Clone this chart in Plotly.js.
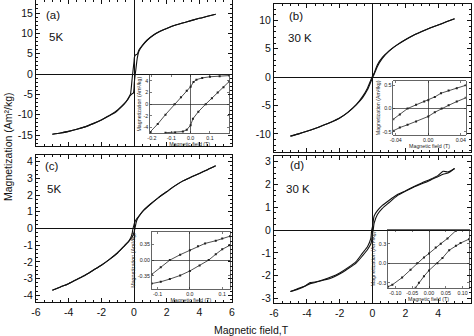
<!DOCTYPE html>
<html><head><meta charset="utf-8">
<script src="https://cdn.plot.ly/plotly-3.0.1.min.js"></script>
<style>body{margin:0;padding:0;background:#fff}#chart{width:474px;height:336px}</style>
</head><body><div id="chart"></div>
<script>
// ---- Panel (a) 5K main loop ----
const aAscX = [-5,-4.5,-4,-3.5,-3,-2.5,-2,-1.5,-1,-0.6,-0.4,-0.25,-0.13,-0.04,-0.02,0,0.012,0.04,0.078,0.11,0.2,0.3,0.5,0.8,1.2,1.6,2,2.6,3.2,4,4.5,5];
const aAscY = [-14.8,-14.5,-14.1,-13.6,-13.0,-12.2,-11.3,-10.2,-8.8,-7.3,-6.4,-5.4,-4.9,-4.7,-4.4,-3.6,-2.5,-1.3,0,1.0,3.9,5.6,6.9,8.3,9.6,10.5,11.2,12.1,12.8,13.7,14.2,14.7];
const aDescX = [5,4.5,4,3.2,2.6,2,1.6,1.2,0.8,0.5,0.3,0.2,0.1,0.03,0.015,0,-0.02,-0.05,-0.083,-0.13,-0.21,-0.3,-0.5,-0.8,-1.2,-1.6,-2,-2.5,-3,-3.5,-4,-4.5,-5];
const aDescY = [14.7,14.2,13.7,12.8,12.1,11.2,10.5,9.6,8.3,7.0,5.9,4.9,4.7,4.2,3.8,3.0,2.3,1.2,0,-1.8,-4.8,-5.6,-6.9,-8.2,-9.6,-10.4,-11.3,-12.2,-13.0,-13.6,-14.1,-14.5,-14.8];
// inset (a)
const aInUpX = [-0.21,-0.17,-0.13,-0.083,-0.05,-0.02,0,0.015,0.03,0.06,0.1,0.15,0.2];
const aInUpY = [-4.8,-3.4,-1.8,0,1.2,2.3,3.0,3.8,4.2,4.5,4.7,4.8,4.9];
const aInLoX = [-0.13,-0.08,-0.04,-0.02,0,0.012,0.04,0.078,0.11,0.14,0.17,0.2];
const aInLoY = [-4.9,-4.85,-4.7,-4.4,-3.6,-2.5,-1.3,0,1.0,2.0,2.9,3.9];

// ---- Panel (b) 30K ----
const bX = [-5,-4.5,-4,-3.5,-3,-2.5,-2,-1.5,-1,-0.6,-0.3,-0.1,0,0.1,0.3,0.6,1,1.5,2,2.5,3,3.5,4,4.5,5];
const bDescY = [-10.4,-10.0,-9.55,-9.05,-8.5,-7.9,-7.2,-6.2,-4.9,-3.4,-1.9,-0.5,0.18,0.7,2.2,3.5,4.6,5.7,6.6,7.4,8.05,8.65,9.2,9.75,10.3];
const bAscY  = [-10.4,-10.0,-9.55,-9.05,-8.5,-7.9,-7.2,-6.2,-4.9,-3.6,-2.2,-0.8,-0.17,0.5,1.9,3.3,4.6,5.7,6.6,7.4,8.05,8.65,9.2,9.75,10.3];
const bInUpX = [-0.043,-0.035,-0.0255,-0.015,-0.005,0,0.008,0.0156,0.025,0.035,0.046];
const bInUpY = [-0.23,-0.13,0,0.08,0.15,0.18,0.25,0.33,0.39,0.44,0.5];
const bInLoX = [-0.043,-0.035,-0.0255,-0.015,0,0.008,0.0165,0.025,0.035,0.046];
const bInLoY = [-0.48,-0.41,-0.35,-0.28,-0.17,-0.08,0,0.07,0.15,0.23];

// ---- Panel (c) 5K ----
const cDescX = [5,4.5,4,3.5,3,2.5,2,1.5,1,0.6,0.35,0.2,0.124,0.047,0,-0.062,-0.118,-0.2,-0.35,-0.6,-1,-1.5,-2,-2.5,-3,-3.5,-4,-4.5,-5];
const cDescY = [3.75,3.52,3.3,3.08,2.85,2.55,2.2,1.85,1.45,1.1,0.8,0.62,0.52,0.37,0.22,0,-0.32,-0.55,-0.8,-1.05,-1.45,-1.85,-2.2,-2.5,-2.8,-3.05,-3.3,-3.5,-3.7];
const cAscX = [-5,-4.5,-4,-3.5,-3,-2.5,-2,-1.5,-1,-0.6,-0.35,-0.2,-0.118,-0.062,0,0.058,0.124,0.2,0.35,0.6,1,1.5,2,2.5,3,3.5,4,4.5,5];
const cAscY = [-3.7,-3.5,-3.3,-3.05,-2.8,-2.5,-2.2,-1.85,-1.45,-1.05,-0.8,-0.62,-0.52,-0.42,-0.24,0,0.33,0.55,0.8,1.1,1.45,1.85,2.2,2.55,2.85,3.08,3.3,3.52,3.75];
const cInUpX = [-0.118,-0.09,-0.062,-0.03,0,0.025,0.047,0.08,0.1,0.124];
const cInUpY = [-0.317,-0.16,0,0.12,0.22,0.31,0.37,0.43,0.48,0.53];
const cInLoX = [-0.118,-0.09,-0.062,-0.03,0,0.03,0.058,0.08,0.1,0.124];
const cInLoY = [-0.52,-0.48,-0.42,-0.34,-0.24,-0.12,0,0.13,0.24,0.33];

// ---- Panel (d) 30K ----
const dDescX = [5,4.6,4.3,4.0,3.5,3.0,2.5,2.0,1.5,1.0,0.6,0.3,0.1,0.03,0,-0.05,-0.1,-0.3,-0.6,-1.0,-1.5,-2.0,-2.5,-3.0,-3.5,-3.8,-4.1,-4.5,-5];
const dDescY = [2.7,2.55,2.58,2.4,2.22,2.07,1.9,1.72,1.55,1.3,1.08,0.85,0.62,0.3,0.15,0,-0.35,-0.72,-1.0,-1.38,-1.65,-1.88,-2.05,-2.18,-2.28,-2.3,-2.45,-2.58,-2.7];
const dAscX = [-5,-4.5,-4.1,-3.8,-3.5,-3.0,-2.5,-2.0,-1.5,-1.0,-0.6,-0.3,-0.1,-0.03,0,0.04,0.1,0.3,0.6,1.0,1.5,2.0,2.5,3.0,3.5,4.0,4.3,4.6,5];
const dAscY = [-2.7,-2.55,-2.45,-2.35,-2.3,-2.2,-2.1,-1.93,-1.7,-1.45,-1.12,-0.85,-0.6,-0.35,-0.11,0,0.3,0.68,0.95,1.2,1.5,1.7,1.88,2.03,2.18,2.35,2.45,2.5,2.7];
const dInUpX = [-0.122,-0.109,-0.08,-0.055,-0.035,-0.015,0,0.02,0.035,0.055,0.08];
const dInUpY = [-0.36,-0.33,-0.22,-0.1,0,0.09,0.15,0.24,0.3,0.38,0.5];
const dInLoX = [-0.04,-0.03,-0.015,0,0.025,0.04,0.06,0.08,0.094,0.119];
const dInLoY = [-0.375,-0.3,-0.2,-0.11,0,0.08,0.2,0.27,0.31,0.37];

// tick labels
const mainXTicks = [-6,-4,-2,0,2,4,6];
const mainXText = ['-6','-4','-2','0','2','4','6'];
const aYTicks = [-15,-10,-5,0,5,10,15];
const aYText = ['-15','-10','-5','0','5','10','15'];
const bYTicks = [-10,-5,0,5,10];
const bYText = ['-10','-5','0','5','10'];
const cYTicks = [-4,-3,-2,-1,0,1,2,3,4];
const cYText = ['-4','-3','-2','-1','0','1','2','3','4'];
const dYTicks = [-3,-2,-1,0,1,2,3];
const dYText = ['-3','-2','-1','0','1','2','3'];
const aInXT = [-0.2,-0.1,0,0.1], aInXL = ['-0.2','-0.1','0.0','0.1'];
const aInYT = [-4,-2,0,2,4], aInYL = ['-4','-2','0','2','4'];
const bInXT = [-0.04,0,0.04], bInXL = ['-0.04','0.00','0.04'];
const bInYT = [-0.5,0,0.5], bInYL = ['-0.5','0.0','0.5'];
const cInXT = [-0.1,0,0.1], cInXL = ['-0.1','0.0','0.1'];
const cInYT = [-0.35,0,0.35], cInYL = ['-0.35','0.00','0.35'];
const dInXT = [-0.1,-0.05,0,0.05,0.1], dInXL = ['-0.10','-0.05','0.00','0.05','0.10'];
const dInYT = [-0.3,0,0.3], dInYL = ['-0.3','0.0','0.3'];

const FONT = 'Liberation Sans, Arial, sans-serif';
function mainLine(x,y,xa,ya){return {x:x,y:y,xaxis:xa,yaxis:ya,type:'scatter',mode:'lines',line:{color:'#111',width:1.1,shape:'spline',smoothing:0.6},hoverinfo:'skip',showlegend:false};}
function inLine(x,y,xa,ya){return {x:x,y:y,xaxis:xa,yaxis:ya,type:'scatter',mode:'lines+markers',line:{color:'#222',width:0.8},marker:{size:2,color:'#222',symbol:'square'},hoverinfo:'skip',showlegend:false};}

const data = [
  mainLine(aAscX,aAscY,'x','y'), mainLine(aDescX,aDescY,'x','y'),
  mainLine(bX,bAscY,'x2','y2'), mainLine(bX,bDescY,'x2','y2'),
  mainLine(cAscX,cAscY,'x3','y3'), mainLine(cDescX,cDescY,'x3','y3'),
  mainLine(dAscX,dAscY,'x4','y4'), mainLine(dDescX,dDescY,'x4','y4'),
  inLine(aInUpX,aInUpY,'x5','y5'), inLine(aInLoX,aInLoY,'x5','y5'),
  inLine(bInUpX,bInUpY,'x6','y6'), inLine(bInLoX,bInLoY,'x6','y6'),
  inLine(cInUpX,cInUpY,'x7','y7'), inLine(cInLoX,cInLoY,'x7','y7'),
  inLine(dInUpX,dInUpY,'x8','y8'), inLine(dInLoX,dInLoY,'x8','y8')
];

function mainAx(domain, range, tv, tt, showLab, anchor, minorD){
  return {domain:domain, range:range, anchor:anchor, tickmode:'array', tickvals:tv, ticktext:tt,
    showticklabels:showLab, ticks:'inside', ticklen:4, tickwidth:1, tickcolor:'#111',
    minor:{ticks:'inside', ticklen:2, dtick:minorD, tick0:0, tickcolor:'#111', showgrid:false},
    showline:true, linecolor:'#111', linewidth:1, mirror:'ticks', showgrid:false,
    zeroline:true, zerolinecolor:'#111', zerolinewidth:1,
    tickfont:{family:FONT,size:10.5,color:'#111'}};
}
function inAx(domain, range, tv, tt, anchor, title){
  const ax = {domain:domain, range:range, anchor:anchor, tickmode:'array', tickvals:tv, ticktext:tt,
    ticks:'inside', ticklen:2, tickwidth:0.6, tickcolor:'#222',
    showline:true, linecolor:'#222', linewidth:0.7, mirror:'ticks', showgrid:false,
    zeroline:true, zerolinecolor:'#222', zerolinewidth:0.7,
    tickfont:{family:FONT,size:5.3,color:'#222'}};
  if(title){ax.title={text:title, font:{family:FONT,size:5.3,color:'#222'}, standoff:1};}
  return ax;
}

const W=474,H=336;
function dx(a,b){return [a/W,b/W];}
function dy(top,bot){return [1-bot/H,1-top/H];}

const layout = {
  width:W, height:H, margin:{l:0,r:0,t:0,b:0}, paper_bgcolor:'#fff', plot_bgcolor:'rgba(0,0,0,0)',
  showlegend:false, font:{family:FONT,color:'#111'},
  xaxis: mainAx(dx(36,232),[-6,6],mainXTicks,mainXText,false,'y',0.5),
  yaxis: mainAx(dy(0,146),[-17.7,18.2],aYTicks,aYText,true,'x',1),
  xaxis2: mainAx(dx(274,471),[-6,6],mainXTicks,mainXText,false,'y2',0.5),
  yaxis2: mainAx(dy(4,152),[-13.2,12.9],bYTicks,bYText,true,'x2',1),
  xaxis3: mainAx(dx(36,232),[-6,6],mainXTicks,mainXText,true,'y3',0.5),
  yaxis3: mainAx(dy(155,302),[-4.4,4.4],cYTicks,cYText,true,'x3',0.25),
  xaxis4: mainAx(dx(274,471),[-6,6],mainXTicks,mainXText,true,'y4',0.5),
  yaxis4: mainAx(dy(156,303),[-3.2,3.25],dYTicks,dYText,true,'x4',0.25),
  xaxis5: inAx(dx(150,229.3),[-0.21,0.2],aInXT,aInXL,'y5','Magnetic field (T)'),
  yaxis5: inAx(dy(75,133.3),[-5,5],aInYT,aInYL,'x5','Magnetization (Am²/kg)'),
  xaxis6: inAx(dx(393.3,465.7),[-0.043,0.046],bInXT,bInXL,'y6','Magnetic field (T)'),
  yaxis6: inAx(dy(80.7,135),[-0.57,0.6],bInYT,bInYL,'x6','Magnetization (Am²/kg)'),
  xaxis7: inAx(dx(151.7,230),[-0.118,0.124],cInXT,cInXL,'y7','Magnetic field (T)'),
  yaxis7: inAx(dy(231.7,289),[-0.64,0.63],cInYT,cInYL,'x7','Magnetization (Am²/kg)'),
  xaxis8: inAx(dx(388,469),[-0.122,0.119],dInXT,dInXL,'y8','Magnetic field (T)'),
  yaxis8: inAx(dy(230,287.7),[-0.375,0.51],dInYT,dInYL,'x8','Magnetization (Am²/kg)'),
  shapes: [
    {type:'rect',xref:'paper',yref:'paper',x0:150/W,x1:229.3/W,y0:1-133.3/H,y1:1-75/H,fillcolor:'#fff',line:{width:0},layer:'below'},
    {type:'rect',xref:'paper',yref:'paper',x0:393.3/W,x1:465.7/W,y0:1-135/H,y1:1-80.7/H,fillcolor:'#fff',line:{width:0},layer:'below'},
    {type:'rect',xref:'paper',yref:'paper',x0:151.7/W,x1:230/W,y0:1-289/H,y1:1-231.7/H,fillcolor:'#fff',line:{width:0},layer:'below'},
    {type:'rect',xref:'paper',yref:'paper',x0:388/W,x1:469/W,y0:1-287.7/H,y1:1-230.5/H,fillcolor:'#fff',line:{width:0},layer:'below'}
  ],
  annotations: [
    {text:'(a)',x:44/W,y:1-15/H,xref:'paper',yref:'paper',xanchor:'left',yanchor:'middle',showarrow:false,font:{family:FONT,size:11.5}},
    {text:'5K',x:47/W,y:1-37/H,xref:'paper',yref:'paper',xanchor:'left',yanchor:'middle',showarrow:false,font:{family:FONT,size:11.5}},
    {text:'(b)',x:287/W,y:1-16/H,xref:'paper',yref:'paper',xanchor:'left',yanchor:'middle',showarrow:false,font:{family:FONT,size:11.5}},
    {text:'30 K',x:286/W,y:1-38/H,xref:'paper',yref:'paper',xanchor:'left',yanchor:'middle',showarrow:false,font:{family:FONT,size:11.5}},
    {text:'(c)',x:43/W,y:1-166/H,xref:'paper',yref:'paper',xanchor:'left',yanchor:'middle',showarrow:false,font:{family:FONT,size:11.5}},
    {text:'5K',x:45/W,y:1-189/H,xref:'paper',yref:'paper',xanchor:'left',yanchor:'middle',showarrow:false,font:{family:FONT,size:11.5}},
    {text:'(d)',x:288/W,y:1-165/H,xref:'paper',yref:'paper',xanchor:'left',yanchor:'middle',showarrow:false,font:{family:FONT,size:11.5}},
    {text:'30 K',x:284/W,y:1-189/H,xref:'paper',yref:'paper',xanchor:'left',yanchor:'middle',showarrow:false,font:{family:FONT,size:11.5}},
    {text:'Magnetization (Am²/kg)',x:8/W,y:1-147/H,xref:'paper',yref:'paper',xanchor:'center',yanchor:'middle',textangle:-90,showarrow:false,font:{family:FONT,size:10.5}},
    {text:'Magnetic field,T',x:252/W,y:1-330/H,xref:'paper',yref:'paper',xanchor:'center',yanchor:'middle',showarrow:false,font:{family:FONT,size:10.5}}
  ]
};
Plotly.newPlot('chart', data, layout, {staticPlot:true, displayModeBar:false});
</script></body></html>
